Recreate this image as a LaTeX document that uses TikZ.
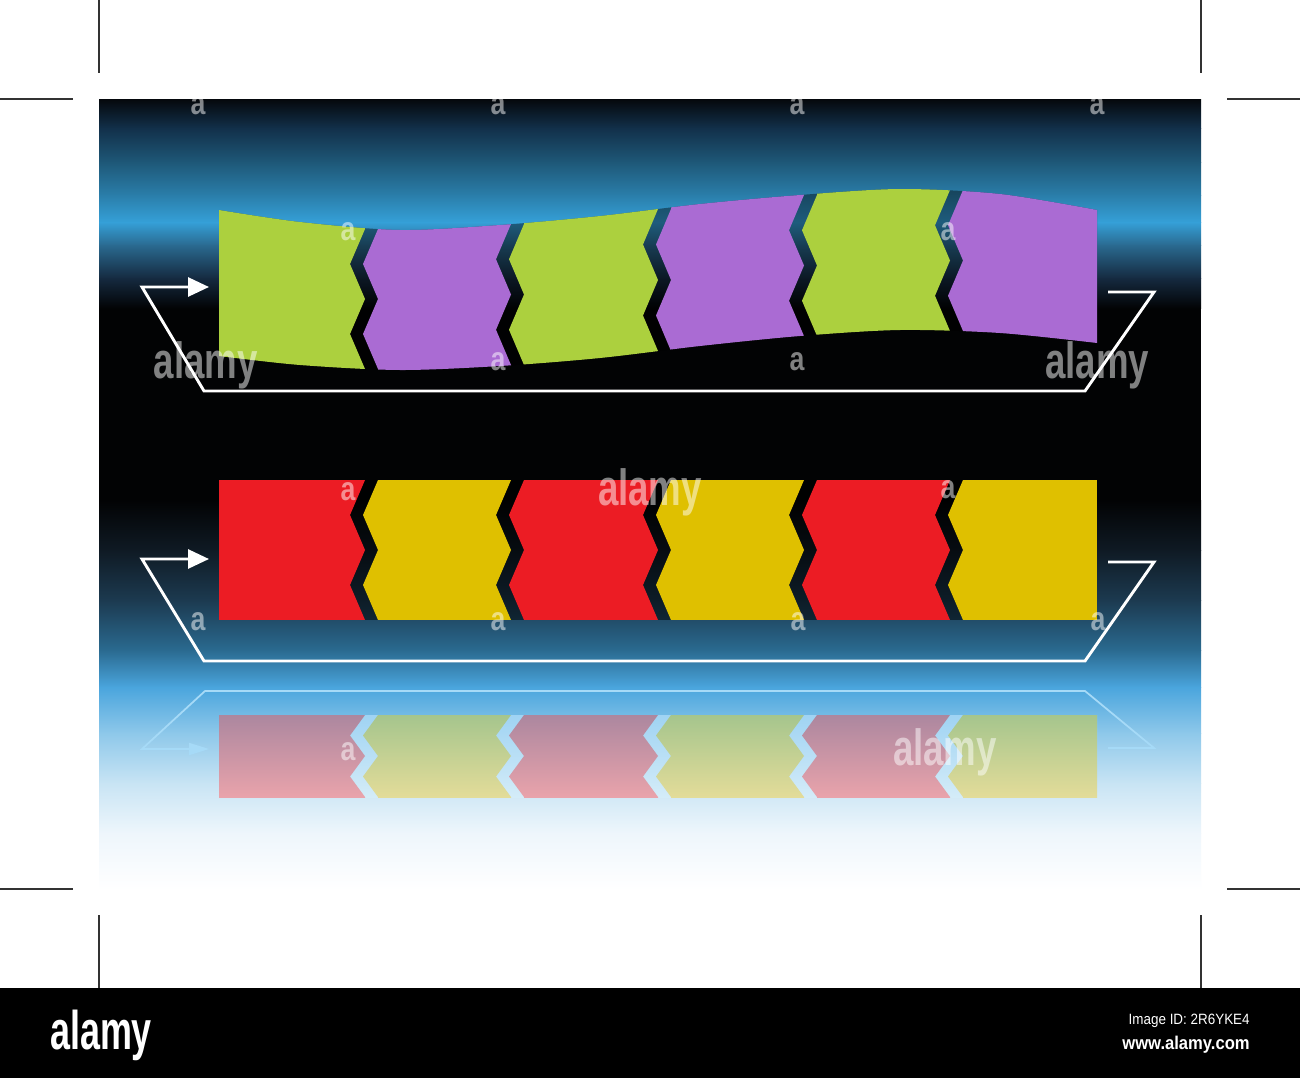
\documentclass[tikz,border=0pt]{standalone}
\usepackage{fontspec}
\setmainfont{Liberation Sans}
\usetikzlibrary{arrows.meta}
\definecolor{cgreen}{HTML}{ACD03E}
\definecolor{cpurple}{HTML}{AA6BD3}
\definecolor{cred}{HTML}{EC1C24}
\definecolor{cyellow}{HTML}{DFC000}
\definecolor{rredt}{HTML}{AC879F}
\definecolor{rredb}{HTML}{E9A3AB}
\definecolor{ryelt}{HTML}{A5C58D}
\definecolor{ryelb}{HTML}{E3DC99}
\definecolor{rgapt}{HTML}{9FD3F3}
\definecolor{rgapb}{HTML}{D4ECF8}
\definecolor{reflblue}{HTML}{A6DAF7}
\definecolor{cropgray}{HTML}{333333}
\definecolor{pbk}{HTML}{020304}
\definecolor{g0}{HTML}{05080C}
\definecolor{g1}{HTML}{12304A}
\definecolor{g2}{HTML}{1E5878}
\definecolor{g3}{HTML}{2A7EAA}
\definecolor{g4}{HTML}{35A0D8}
\definecolor{g5}{HTML}{2A6A90}
\definecolor{g6}{HTML}{152A40}
\definecolor{h1}{HTML}{0F1A24}
\definecolor{h2}{HTML}{1C3A50}
\definecolor{h3}{HTML}{2A6A90}
\definecolor{h4}{HTML}{4AA5DD}
\definecolor{h5}{HTML}{8EC8EA}
\definecolor{h6}{HTML}{C8E4F4}
\definecolor{h7}{HTML}{EEF6FC}
% vertical band of the panel gradient
\newcommand{\pband}[4]{\shade[top color=#3,bottom color=#4] (99,#1) rectangle (1201,#2);}
% clip to one segment: left out-x, left top, left bottom, right out-x, right top, right bottom
\newcommand{\segclip}[6]{%
  \clip (#1,{#2-40}) -- (#1,#2) -- ({#1-15},{#2+(#3-#2)/4}) -- (#1,{(#2+#3)/2})
    -- ({#1-15},{#2+3*(#3-#2)/4}) -- (#1,#3) -- (#1,{#3+40})
    -- (#4,{#6+40}) -- (#4,#6) -- ({#4-15},{#5+3*(#6-#5)/4}) -- (#4,{(#5+#6)/2})
    -- ({#4-15},{#5+(#6-#5)/4}) -- (#4,#5) -- (#4,{#5-40}) -- cycle;}
\newcommand{\bandA}{plot[smooth] coordinates {(219,210) (300,222) (400,230) (500,225) (600,216) (700,204) (800,195) (900,189) (1000,194) (1097,210)} -- plot[smooth] coordinates {(1097,343) (1000,333) (900,330) (800,336) (700,346) (600,358) (500,366) (400,370) (300,365) (219,356)} -- cycle}
\newcommand{\bandB}{(219,480) rectangle (1097,620)}
\newcommand{\bandC}{(219,715) rectangle (1097,797)}
\begin{document}
\begin{tikzpicture}[x=0.02cm,y=-0.02cm,
  loopline/.style={draw=white,line width=0.058cm,line join=miter},
  refline/.style={draw=reflblue,line width=0.035cm,line join=miter},
  crop/.style={draw=cropgray,line width=0.03cm},
  wm/.style={text=white,text opacity=0.5,inner sep=0pt,font=\bfseries\fontsize{19}{19}\selectfont,xscale=0.8},
  wmbig/.style={text=white,text opacity=0.5,inner sep=0pt,font=\bfseries\fontsize{29}{29}\selectfont,xscale=0.72}]
\useasboundingbox (0,0) rectangle (1300,1078);
\fill[white] (0,0) rectangle (1300,1078);
% ---- panel background
\fill[pbk] (99,99) rectangle (1201,890);
\pband{99}{128.5}{g0}{g1}
\pband{128}{162.5}{g1}{g2}
\pband{162}{195.5}{g2}{g3}
\pband{195}{222.5}{g3}{g4}
\pband{222}{245.5}{g4}{g5}
\pband{245}{278.5}{g5}{g6}
\pband{278}{308.5}{g6}{pbk}
\pband{500}{550.5}{pbk}{h1}
\pband{550}{600.5}{h1}{h2}
\pband{600}{650.5}{h2}{h3}
\pband{650}{687.5}{h3}{h4}
\pband{687}{733.5}{h4}{h5}
\pband{733}{783.5}{h5}{h6}
\pband{783}{833.5}{h6}{h7}
\pband{833}{890}{h7}{white}
% ---- row 1 (wavy)
\fill[black,opacity=0.42] \bandA;
\begin{scope}\segclip{150}{210}{356}{365}{229}{369}\fill[cgreen] \bandA;\end{scope}
\begin{scope}\segclip{378}{229}{369}{511}{224}{365}\fill[cpurple] \bandA;\end{scope}
\begin{scope}\segclip{524}{224}{365}{658}{209}{351}\fill[cgreen] \bandA;\end{scope}
\begin{scope}\segclip{671}{209}{351}{804}{195}{336}\fill[cpurple] \bandA;\end{scope}
\begin{scope}\segclip{817}{195}{336}{950}{190}{331}\fill[cgreen] \bandA;\end{scope}
\begin{scope}\segclip{963}{190}{331}{1200}{190}{331}\fill[cpurple] \bandA;\end{scope}
% ---- row 2 (straight)
\fill[black,opacity=0.5] \bandB;
\begin{scope}\segclip{150}{480}{620}{365}{480}{620}\fill[cred] \bandB;\end{scope}
\begin{scope}\segclip{378}{480}{620}{511}{480}{620}\fill[cyellow] \bandB;\end{scope}
\begin{scope}\segclip{524}{480}{620}{658}{480}{620}\fill[cred] \bandB;\end{scope}
\begin{scope}\segclip{671}{480}{620}{804}{480}{620}\fill[cyellow] \bandB;\end{scope}
\begin{scope}\segclip{817}{480}{620}{950}{480}{620}\fill[cred] \bandB;\end{scope}
\begin{scope}\segclip{963}{480}{620}{1200}{480}{620}\fill[cyellow] \bandB;\end{scope}
% ---- row 3 (reflection)
\shade[top color=rgapt,bottom color=rgapb] \bandC;
\begin{scope}\segclip{150}{715}{797}{365}{715}{797}\shade[top color=rredt,bottom color=rredb] \bandC;\end{scope}
\begin{scope}\segclip{378}{715}{797}{511}{715}{797}\shade[top color=ryelt,bottom color=ryelb] \bandC;\end{scope}
\begin{scope}\segclip{524}{715}{797}{658}{715}{797}\shade[top color=rredt,bottom color=rredb] \bandC;\end{scope}
\begin{scope}\segclip{671}{715}{797}{804}{715}{797}\shade[top color=ryelt,bottom color=ryelb] \bandC;\end{scope}
\begin{scope}\segclip{817}{715}{797}{950}{715}{797}\shade[top color=rredt,bottom color=rredb] \bandC;\end{scope}
\begin{scope}\segclip{963}{715}{797}{1200}{715}{797}\shade[top color=ryelt,bottom color=ryelb] \bandC;\end{scope}
% ---- loop connectors
\coordinate (A1) at (142,287); \coordinate (A2) at (209,287);
\coordinate (A3) at (204,391); \coordinate (A4) at (1085,391);
\coordinate (A5) at (1154,292); \coordinate (A6) at (1108,292);
\coordinate (B1) at (142,559); \coordinate (B2) at (209,559);
\coordinate (B3) at (204,661); \coordinate (B4) at (1085,661);
\coordinate (B5) at (1154,562); \coordinate (B6) at (1108,562);
\coordinate (C1) at (142,749); \coordinate (C2) at (209,749);
\coordinate (C3) at (205,691); \coordinate (C4) at (1085,691);
\coordinate (C5) at (1154,748); \coordinate (C6) at (1108,748);
\draw[loopline,-{Triangle[length=0.42cm,width=0.38cm]}] (A6) -- (A5) -- (A4) -- (A3) -- (A1) -- (A2);
\draw[loopline,-{Triangle[length=0.42cm,width=0.38cm]}] (B6) -- (B5) -- (B4) -- (B3) -- (B1) -- (B2);
\draw[refline,-{Triangle[length=0.4cm,width=0.24cm]}] (C6) -- (C5) -- (C4) -- (C3) -- (C1) -- (C2);
% ---- watermarks
\node[wm] (w1) at (198,106) {a};
\node[wm] (w2) at (498,106) {a};
\node[wm] (w3) at (797,106) {a};
\node[wm] (w4) at (1097,106) {a};
\node[wm] (w5) at (348,232) {a};
\node[wm] (w6) at (948,232) {a};
\node[wm] (w7) at (498,362) {a};
\node[wm] (w8) at (797,362) {a};
\node[wm] (w9) at (348,492) {a};
\node[wm] (w10) at (948,490) {a};
\node[wm] (w11) at (198,622) {a};
\node[wm] (w12) at (498,622) {a};
\node[wm] (w13) at (798,622) {a};
\node[wm] (w14) at (1098,622) {a};
\node[wm] (w15) at (348,752) {a};
\node[wmbig] (W1) at (206,365) {alamy};
\node[wmbig] (W2) at (1097,365) {alamy};
\node[wmbig] (W3) at (650,492) {alamy};
\node[wmbig] (W4) at (945,752) {alamy};
% ---- crop marks
\draw[crop] (99,0) -- (99,73);
\draw[crop] (1201,0) -- (1201,73);
\draw[crop] (0,99) -- (73,99);
\draw[crop] (1227,99) -- (1300,99);
\draw[crop] (0,889) -- (73,889);
\draw[crop] (1227,889) -- (1300,889);
\draw[crop] (99,915) -- (99,988);
\draw[crop] (1201,915) -- (1201,988);
% ---- bottom bar
\fill[black] (0,988) rectangle (1300,1078);
\node[text=white,inner sep=0pt,font=\bfseries\fontsize{31}{31}\selectfont,xscale=0.66] (logo) at (101,1035) {alamy};
\node[text=white,inner sep=0pt,anchor=east,font=\fontsize{8.5}{8.5}\selectfont,xscale=0.9] (imgid) at (1250,1021) {Image ID: 2R6YKE4};
\node[text=white,inner sep=0pt,anchor=east,font=\bfseries\fontsize{10.5}{10.5}\selectfont,xscale=0.9] (url) at (1250,1045) {www.alamy.com};
\end{tikzpicture}
\end{document}
